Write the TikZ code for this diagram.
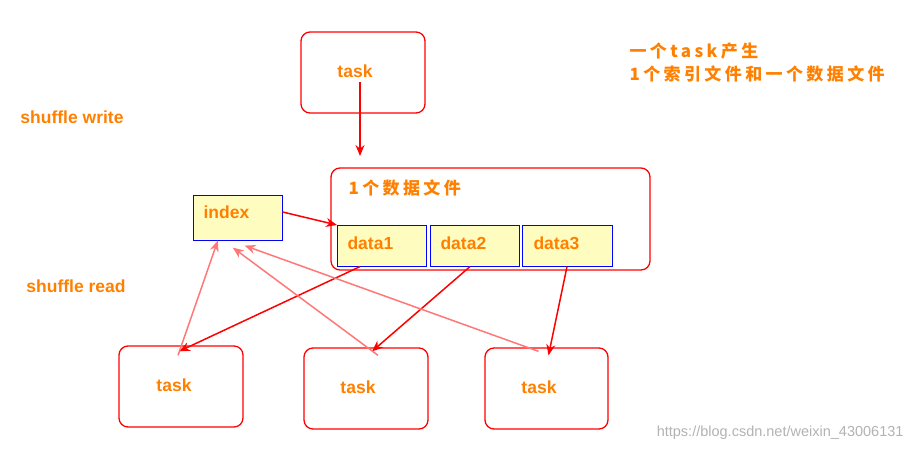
\documentclass[tikz,border=0pt]{standalone}
\usepackage{fontspec}
\setmainfont{Liberation Sans}
\newfontfamily\cjk[LetterSpace=20]{Noto Sans CJK SC}
\usetikzlibrary{arrows.meta}
\definecolor{org}{RGB}{255,128,0}
\definecolor{pk}{RGB}{255,120,120}
\begin{document}
\begin{tikzpicture}[x=1pt,y=-1pt,
  tbox/.style={draw=red,line width=1.3pt,rounded corners=9pt},
  dbox/.style={draw=blue,fill=yellow!25,line width=0.6pt},
  lbl/.style={text=org,font=\bfseries\fontsize{17.5}{20}\selectfont},
  cj/.style={text=org,font=\cjk\bfseries\fontsize{17}{20}\selectfont,anchor=west},
  ar/.style={draw=red,line width=1.5pt,-{Stealth[length=11pt,width=9pt]}},
  pa/.style={draw=pk,line width=1.5pt,-{Stealth[length=11pt,width=9pt]}}]
\useasboundingbox (0,0) rectangle (912,452);
\node[tbox,minimum width=124pt,minimum height=81pt] (t0) at (363,72.5) {};
\node[lbl] at (355,71) {task};
\node[tbox,minimum width=319pt,minimum height=102pt] (big) at (490.5,219) {};
\node[cj] at (345,188) {1个数据文件};
\node[dbox,minimum width=89pt,minimum height=45pt,anchor=north west] (idx) at (193,195) {};
\node[lbl,anchor=west] at (200,212) {index};
\node[dbox,minimum width=89pt,minimum height=41pt,anchor=north west] (d1) at (337,225) {};
\node[dbox,minimum width=89pt,minimum height=41pt,anchor=north west] (d2) at (430,225) {};
\node[dbox,minimum width=90pt,minimum height=41pt,anchor=north west] (d3) at (522,225) {};
\node[lbl,anchor=west] at (344,243) {data1};
\node[lbl,anchor=west] at (437,243) {data2};
\node[lbl,anchor=west] at (530,243) {data3};
\node[tbox,minimum width=124pt,minimum height=81pt] (b1) at (181,386.5) {};
\node[lbl] at (174,385) {task};
\node[tbox,minimum width=124pt,minimum height=81pt] (b2) at (366,388.5) {};
\node[lbl] at (358,387) {task};
\node[tbox,minimum width=123pt,minimum height=81pt] (b3) at (546.5,388.5) {};
\node[lbl] at (539,387) {task};
\node[lbl] (sw) at (72,117) {shuffle write};
\node[lbl] (sr) at (76,286) {shuffle read};
\node[cj] (n1) at (626,51) {一个task产生};
\node[cj] (n2) at (626,74) {1个索引文件和一个数据文件};
\node[text=gray!60,font=\fontsize{14.5}{16}\selectfont,anchor=east] (wm) at (907,433) {https://blog.csdn.net/weixin\_43006131};
\coordinate (a1) at (360,82); \coordinate (a2) at (360,156);
\draw[ar] (a1) -- (a2);
\draw[ar] (idx.east|-0,212) -- (d1.north west);
\draw[ar] ([xshift=23pt]d1.south west) -- ([xshift=-2pt,yshift=-6pt]b1.north);
\draw[ar] ([xshift=40pt]d2.south west) -- ([xshift=6pt,yshift=-4pt]b2.north);
\draw[ar] ([xshift=45pt]d3.south west) -- ([xshift=2pt,yshift=-8pt]b3.north);
\draw[pa] ([xshift=-3pt,yshift=-10pt]b1.north) -- ([xshift=-20pt]idx.south);
\draw[pa] ([xshift=12pt,yshift=-8pt]b2.north) -- ([xshift=-5pt,yshift=-7pt]idx.south);
\draw[pa] ([xshift=-8pt,yshift=-4pt]b3.north) -- ([xshift=-38pt,yshift=-5pt]idx.south east);
\end{tikzpicture}
\end{document}
